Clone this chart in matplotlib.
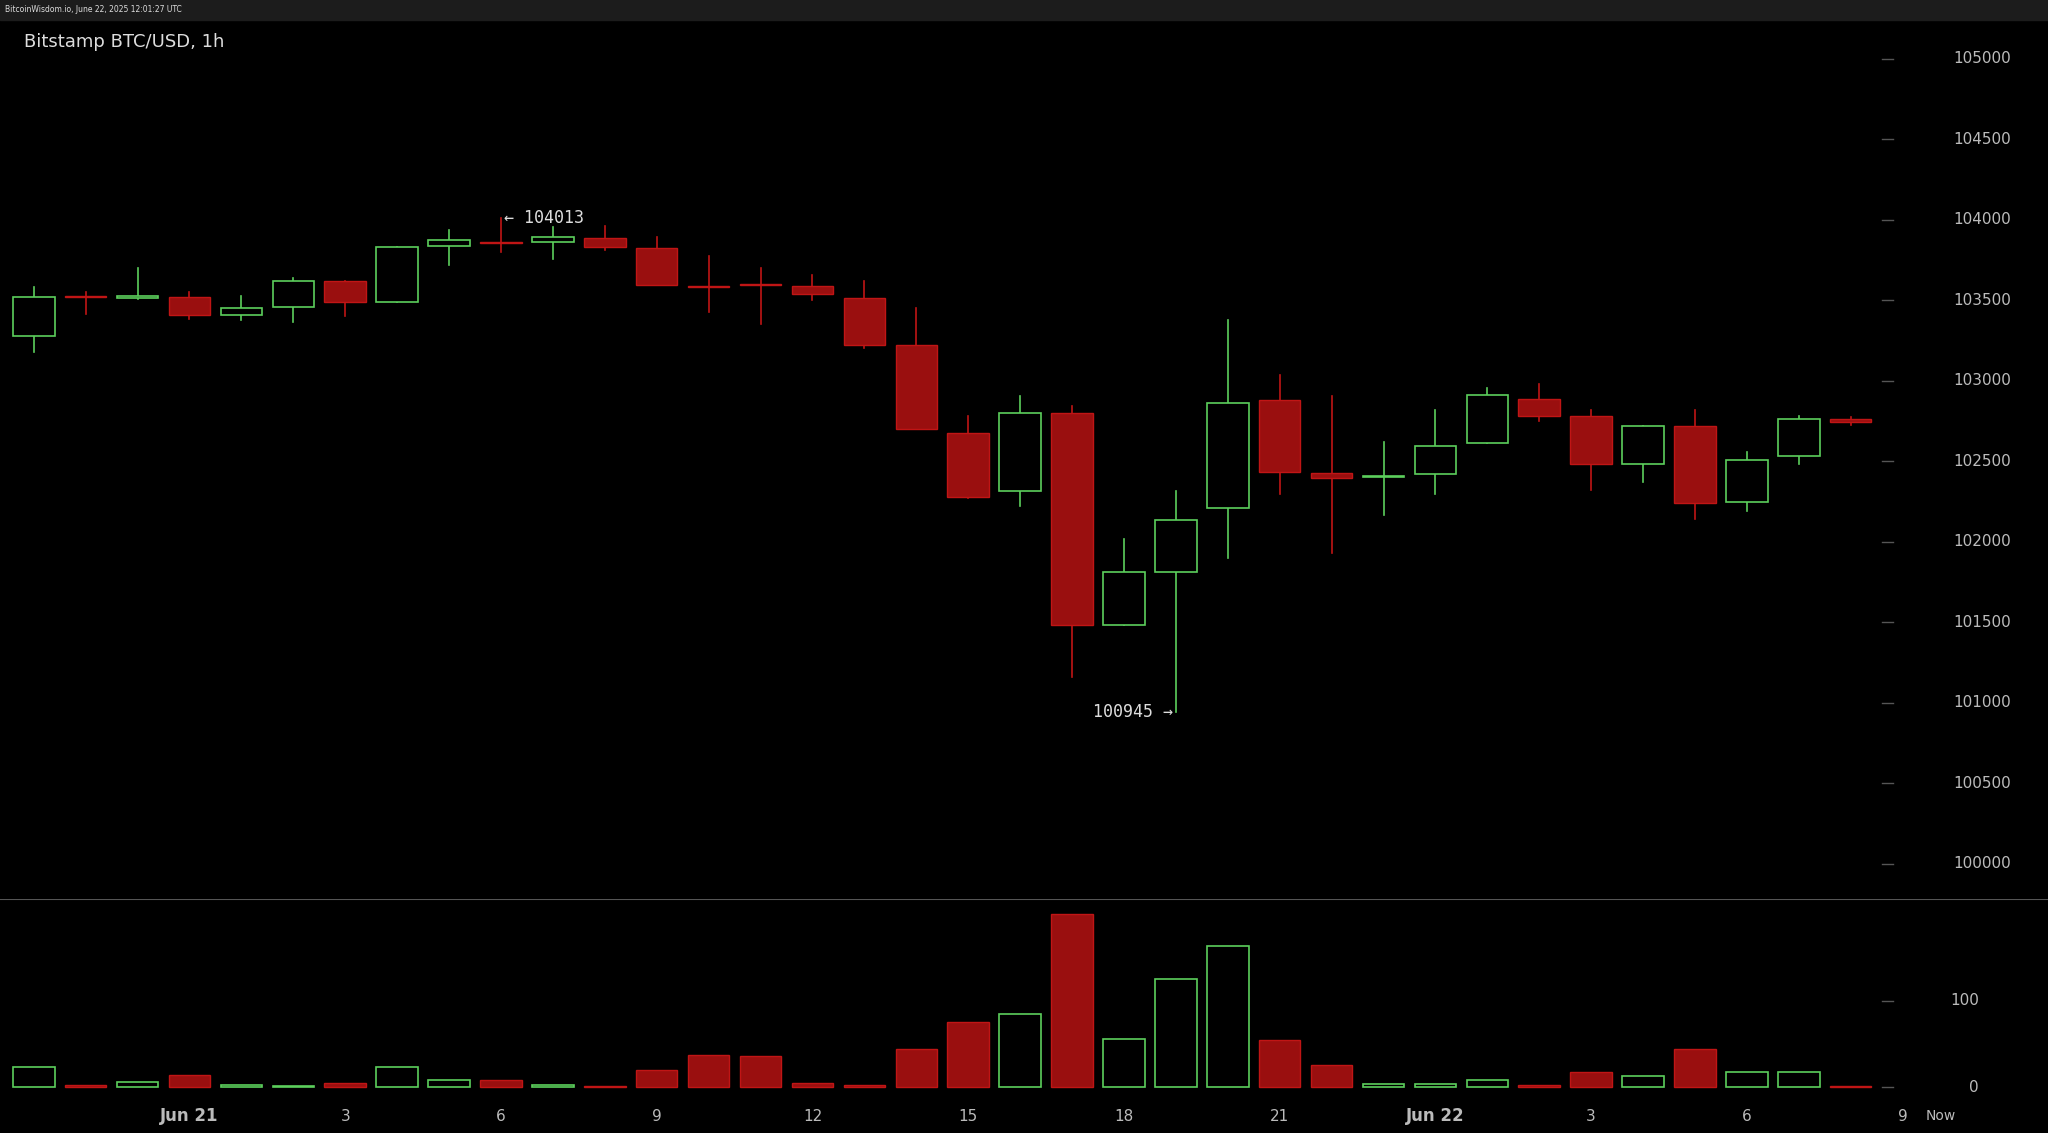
import matplotlib
matplotlib.use("Agg")
import matplotlib.pyplot as plt
import matplotlib.transforms as mtrans
from matplotlib.patches import Rectangle

hours = list(range(-3, 33))
opens  = [103279,103530,103515,103523,103409,103458,103620,103490,103839,103864,103864,103888,103823,103588,103604,103588,103515,103222,102679,102313,102800,101485,101810,102208,102880,102427,102400,102419,102613,102890,102784,102484,102719,102248,102532,102760]
closes = [103523,103520,103530,103409,103450,103620,103490,103831,103872,103856,103896,103831,103596,103580,103596,103540,103222,102703,102281,102800,101485,101810,102135,102865,102435,102395,102405,102597,102914,102784,102484,102719,102240,102508,102760,102744]
highs  = [103580,103555,103700,103555,103530,103636,103620,103831,103937,104013,103953,103961,103896,103774,103700,103660,103620,103450,102784,102906,102841,102020,102313,103377,103036,102906,102622,102816,102955,102979,102816,102719,102816,102557,102784,102776]
lows   = [103182,103417,103510,103385,103377,103368,103400,103490,103718,103800,103758,103815,103596,103425,103352,103500,103206,102703,102273,102224,101160,101485,100945,101900,102297,101932,102167,102297,102613,102752,102321,102370,102143,102192,102484,102727]
volumes = [24,3,6,14,3,1.5,5,24,9,8,3,1,20,38,36,5,3,44,76,85,201,56,126,164,55,26,4,4,9,3,18,13,44,18,18,1]
price_ticks = [100000,100500,101000,101500,102000,102500,103000,103500,104000,104500,105000]
vol_ticks = [0,100]
xtick_pos = [0,3,6,9,12,15,18,21,24,27,30,33]
xtick_lab = ["Jun 21","3","6","9","12","15","18","21","Jun 22","3","6","9"]

W, H = 1568, 867
fig = plt.figure(figsize=(20.48, 11.33), dpi=100, facecolor="black")
def box(l, t, r, b):
    return [l/W, 1-b/H, (r-l)/W, (b-t)/H]
fig.patches.append(Rectangle((0, 1-15/H), 1, 15/H, transform=fig.transFigure, color="#1c1c1c"))
fig.text(4/W, 1-7/H, "BitcoinWisdom.io, June 22, 2025 12:01:27 UTC", color="#dddddd", fontsize=5.5, va="center")

axp = fig.add_axes(box(0, 15, W, 688))
axv = fig.add_axes(box(0, 688, W, 840))
xmin, xmax = -3.65, 35.8
green, red_f, red_e = "#5ccf5c", "#9a0f0f", "#c01515"
for ax in (axp, axv):
    ax.set_facecolor("black")
    ax.set_xlim(xmin, xmax)
    ax.set_xticks([]); ax.set_yticks([])
    for s in ax.spines.values(): s.set_visible(False)
axp.set_ylim(99781, 105244)
axv.set_ylim(-12, 218)
axv.axhline(218, color="#555555", lw=1.5)

w = 0.8
for h, o, c, hi, lo, v in zip(hours, opens, closes, highs, lows, volumes):
    up = c >= o
    col = green if up else red_e
    axp.plot([h, h], [lo, hi], color=col, lw=1.2, zorder=1)
    b0, b1 = min(o, c), max(o, c)
    if up:
        axp.add_patch(Rectangle((h-w/2, b0), w, max(b1-b0, 6), facecolor="black", edgecolor=green, lw=1.2, zorder=2))
        axv.add_patch(Rectangle((h-w/2, 0), w, v, facecolor="black", edgecolor=green, lw=1.2))
    else:
        axp.add_patch(Rectangle((h-w/2, b0), w, max(b1-b0, 6), facecolor=red_f, edgecolor=red_e, lw=1, zorder=2))
        axv.add_patch(Rectangle((h-w/2, 0), w, v, facecolor=red_f, edgecolor=red_e, lw=1))

tp = mtrans.blended_transform_factory(axp.transAxes, axp.transData)
for t in price_ticks:
    axp.plot([1441/W, 1449/W], [t, t], color="#555555", lw=1, transform=tp)
    axp.text(1540/W, t, str(t), color="#bbbbbb", fontsize=11, ha="right", va="center", transform=tp)
tv = mtrans.blended_transform_factory(axv.transAxes, axv.transData)
for t in vol_ticks:
    axv.plot([1441/W, 1449/W], [t, t], color="#555555", lw=1, transform=tv)
    axv.text(1515/W, t, str(t), color="#bbbbbb", fontsize=11, ha="right", va="center", transform=tv)

tx = mtrans.blended_transform_factory(axv.transData, fig.transFigure)
for p, l in zip(xtick_pos, xtick_lab):
    bold = l.startswith("Jun")
    axv.text(p, 1-854/H, l, color="#bbbbbb", fontsize=12 if bold else 11, fontweight="bold" if bold else "normal", ha="center", va="center", transform=tx)
    axv.plot([p, p], [1-841/H, 1-846/H], color="#777777", lw=1, transform=tx)
axv.text(33.45, 1-854/H, "Now", color="#bbbbbb", fontsize=10, ha="left", va="center", transform=tx)

fig.text(18/W, 1-32/H, "Bitstamp BTC/USD, 1h", color="#dddddd", fontsize=13, va="center")
axp.text(6.05, 104013, "← 104013", color="#dddddd", fontsize=12, fontfamily="DejaVu Sans Mono", ha="left", va="center")
axp.text(18.95, 100945, "100945 →", color="#dddddd", fontsize=12, fontfamily="DejaVu Sans Mono", ha="right", va="center")

fig.savefig("out.png", dpi=100, facecolor="black")
